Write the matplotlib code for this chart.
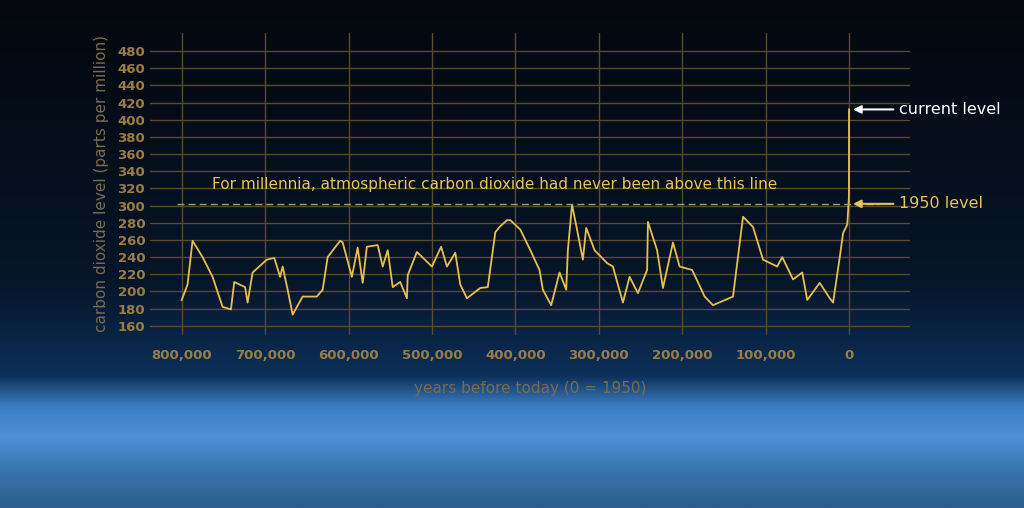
import numpy as np
import matplotlib
matplotlib.use("Agg")
import matplotlib.pyplot as plt
from matplotlib.colors import LinearSegmentedColormap

# thousand years before 1950, CO2 ppm
years_k = [800, 793, 787, 775, 763, 751, 741, 737, 724, 721, 715, 698, 689, 682, 679,
           673, 667, 655, 638, 631, 625, 610, 607, 596, 589, 583, 578, 565, 559, 553,
           547, 538, 530, 529, 518, 500, 489, 482, 472, 466, 458, 442, 433, 424, 418,
           410, 406, 394, 382, 371, 367, 357, 347, 339, 337, 332, 326, 319, 315, 305,
           290, 283, 271, 263, 253, 242, 241, 230, 223, 211, 203, 188, 173, 163, 139,
           127, 115, 103, 86, 80, 67, 56, 50, 35, 23, 19, 11, 7, 2, 0, -0.07]
co2 = [190, 208, 259, 240, 217, 182, 179, 211, 205, 187, 222, 237, 239, 217, 229,
       202, 173, 194, 194, 202, 240, 259, 257, 217, 251, 210, 252, 254, 229, 248,
       205, 211, 192, 219, 246, 229, 252, 229, 245, 208, 192, 204, 205, 269, 276,
       283, 283, 272, 248, 225, 202, 184, 222, 202, 248, 301, 272, 237, 274, 248,
       233, 229, 187, 217, 198, 225, 281, 248, 204, 257, 229, 225, 194, 184, 194,
       287, 275, 237, 229, 240, 214, 222, 190, 210, 192, 187, 240, 268, 278, 310, 412]

yticks = list(range(160, 481, 20))
xticks = [800000, 700000, 600000, 500000, 400000, 300000, 200000, 100000, 0]

fig = plt.figure(figsize=(10.24, 5.08), dpi=100)

# background: dark space fading to blue atmosphere
bg = fig.add_axes([0, 0, 1, 1])
cmap = LinearSegmentedColormap.from_list("sky", [
    (0.0, "#04070d"), (0.55, "#061528"), (0.74, "#0b2f58"),
    (0.80, "#3a7cc2"), (0.86, "#4d92d6"), (0.92, "#3a78b4"), (1.0, "#2c5c8c")])
bg.imshow(np.linspace(0, 1, 256).reshape(-1, 1), aspect="auto", cmap=cmap,
          extent=[0, 1, 0, 1], origin="upper")
bg.axis("off")

ax = fig.add_axes([0.1465, 0.341, 0.742, 0.594])
ax.set_facecolor("none")
ax.plot([y * 1000 for y in years_k], co2, color="#e8bf4e", lw=1.3)
ax.axhline(302, color="#a09a80", lw=1, ls=(0, (5, 3)), xmin=0.035, xmax=0.96)

ax.set_xlim(838000, -73000)
ax.set_ylim(149.5, 501)
ax.set_yticks(yticks)
ax.set_xticks(xticks)
ax.set_xticklabels([f"{x:,}" for x in xticks])
ax.grid(True, color="#5a4a2c", lw=1)
for s in ax.spines.values():
    s.set_visible(False)
ax.tick_params(length=0, colors="#9a7d45", labelsize=9.5)
for lbl in ax.get_xticklabels() + ax.get_yticklabels():
    lbl.set_fontweight("bold")
ax.tick_params(axis="x", pad=10)

ax.set_ylabel("carbon dioxide level (parts per million)", color="#7d6a4c", fontsize=11, labelpad=6)
ax.set_xlabel("years before today (0 = 1950)", color="#7d6a4c", fontsize=11, labelpad=14)

ax.text(425000, 316, "For millennia, atmospheric carbon dioxide had never been above this line",
        color="#e8c25a", fontsize=11, ha="center", va="bottom")
ax.annotate("current level", xy=(-1500, 412), xytext=(-60000, 412),
            color="white", fontsize=11.5, va="center",
            arrowprops=dict(arrowstyle="-|>", color="white", lw=1.5))
ax.annotate("1950 level", xy=(-1500, 302), xytext=(-60000, 302),
            color="#e8c25a", fontsize=11.5, va="center",
            arrowprops=dict(arrowstyle="-|>", color="#e8c25a", lw=1.5))

fig.savefig("out.png", dpi=100)
